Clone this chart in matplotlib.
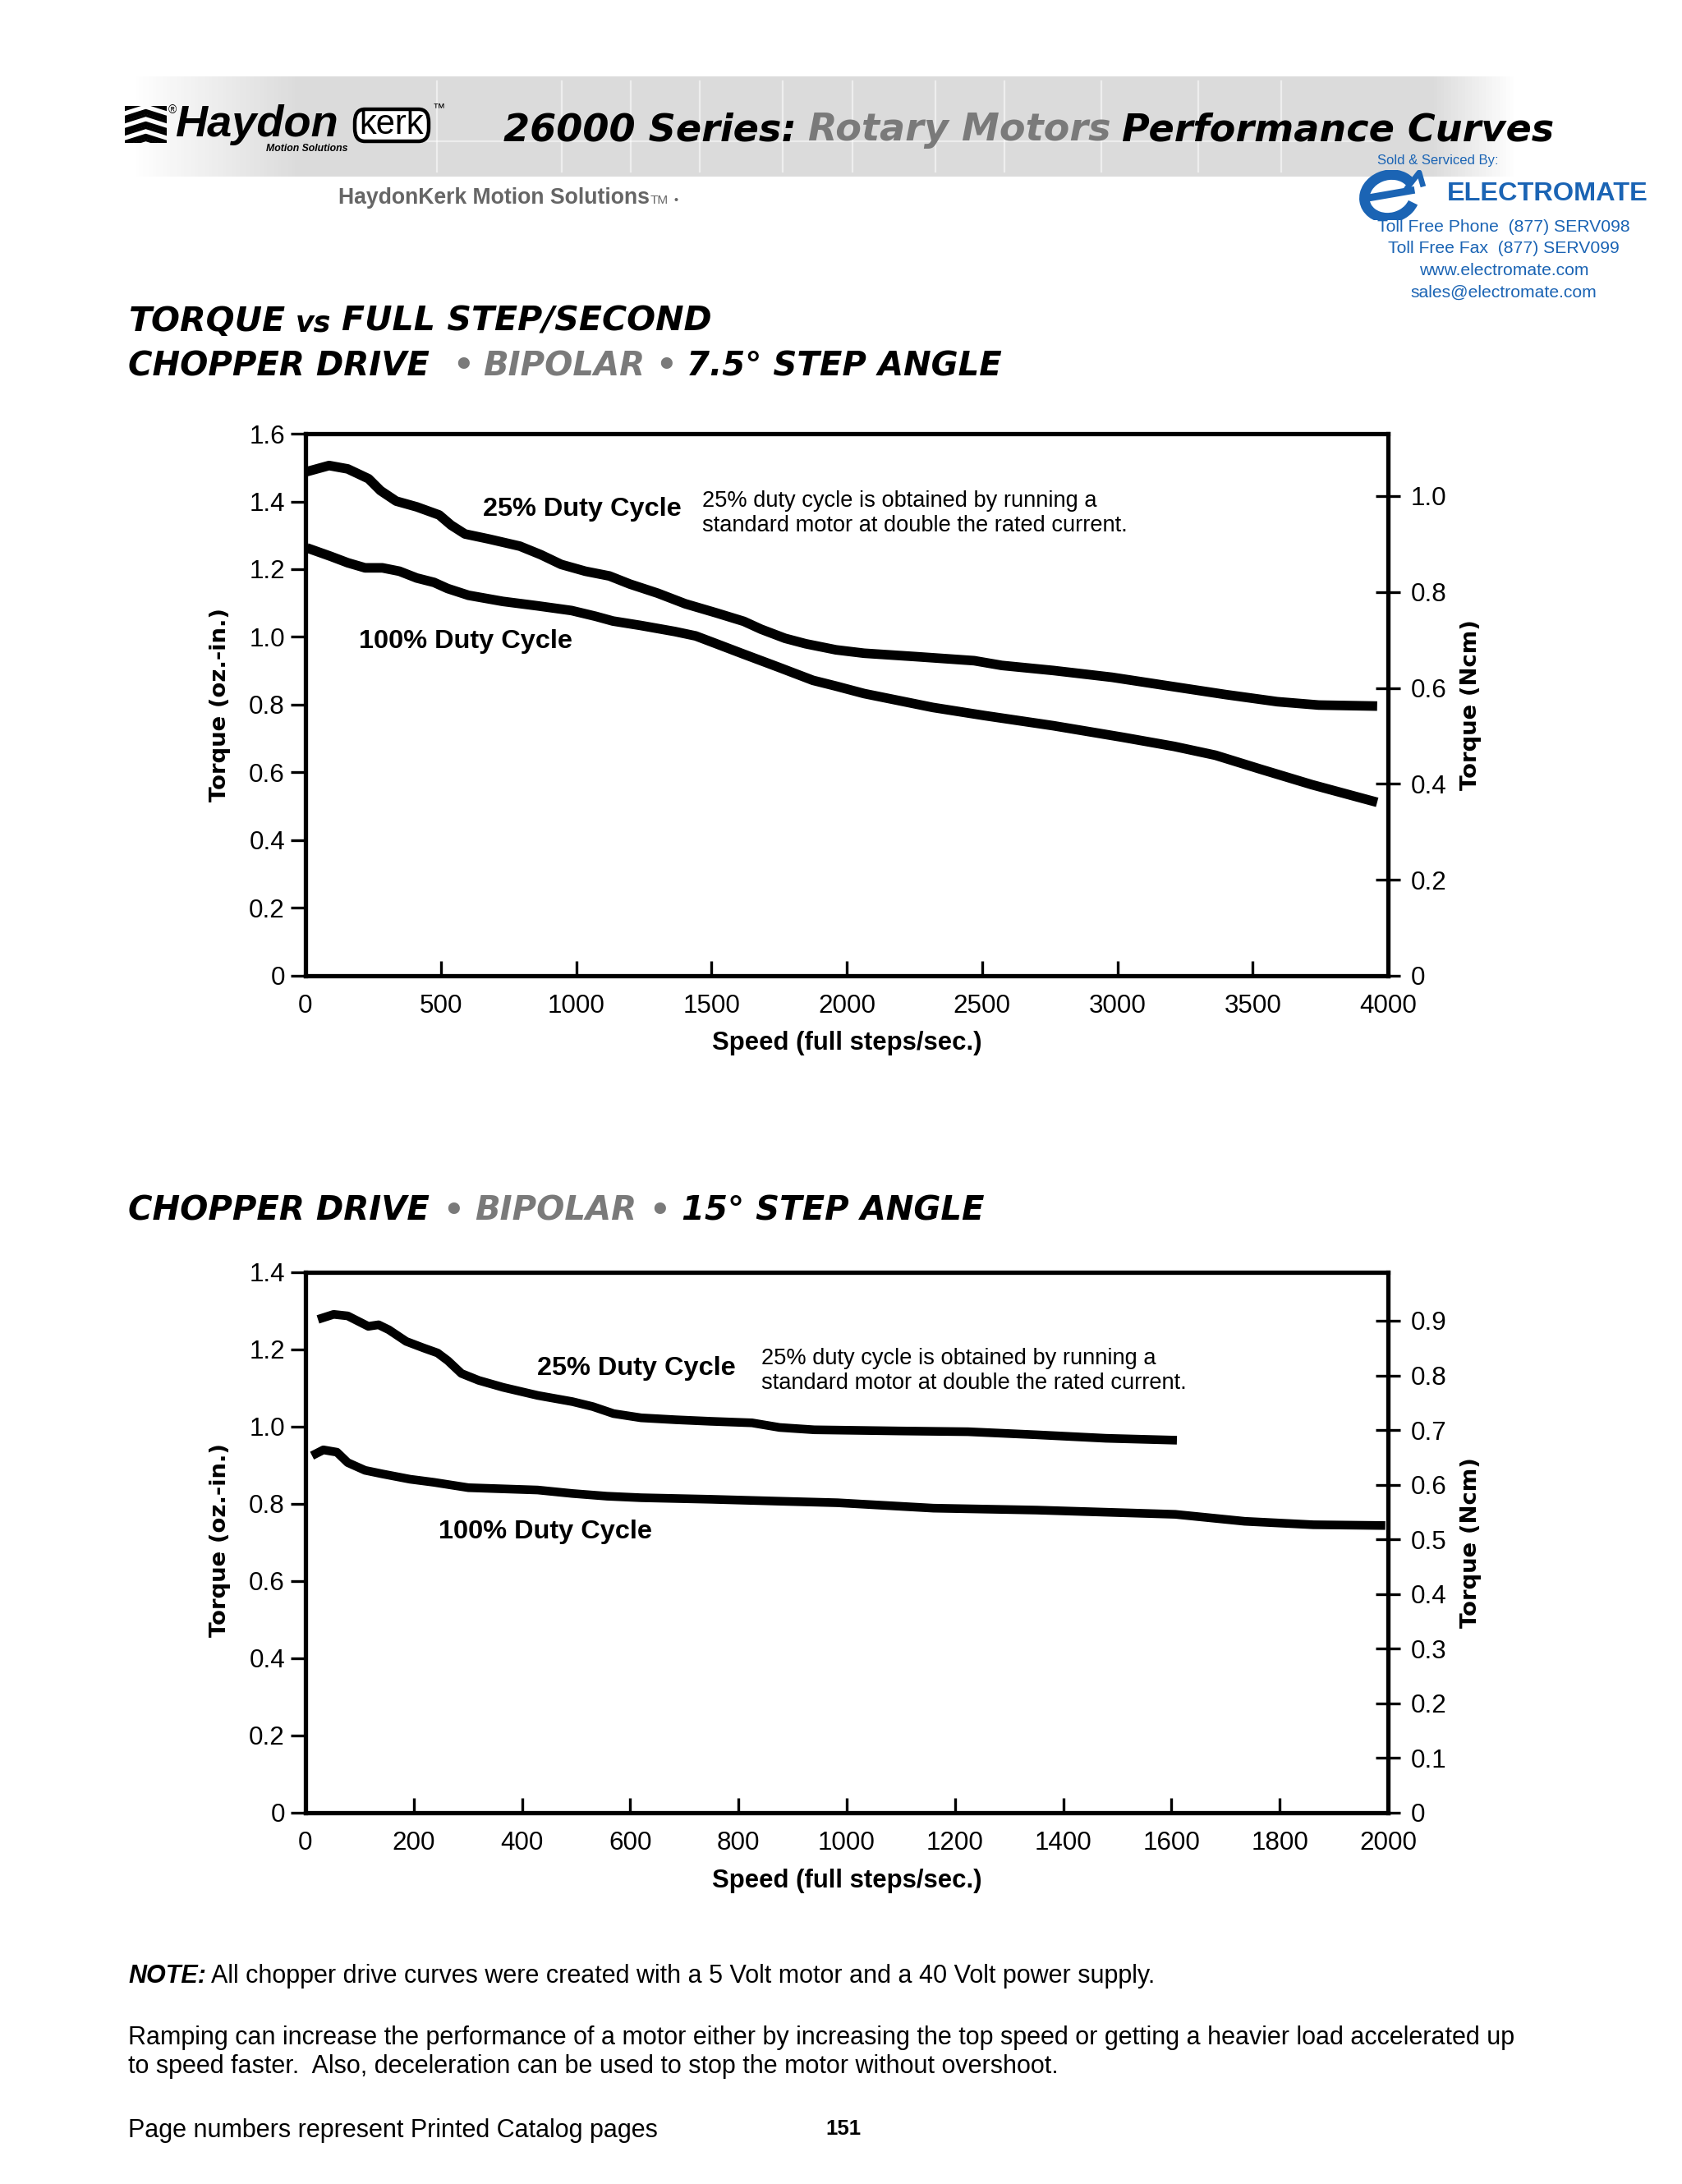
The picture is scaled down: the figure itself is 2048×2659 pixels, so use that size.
import numpy as np
import matplotlib
matplotlib.use("Agg")
import matplotlib.pyplot as plt
from matplotlib.patches import FancyBboxPatch, Arc

plt.rcParams['font.family'] = ['Liberation Sans', 'DejaVu Sans']

# ---------------- data ----------------
# Chart 1: 7.5 deg step angle (speed in full steps/sec, torque in oz-in)
c1_speed_25 = [5, 87, 156, 233, 277, 335, 411, 494, 538, 589, 678, 792, 869, 945, 1034, 1123,
               1199, 1302, 1403, 1518, 1620, 1683, 1772, 1848, 1960, 2064, 2255, 2471, 2573,
               2764, 2980, 3210, 3400, 3591, 3744, 3960]
c1_torque_25 = [1.488, 1.506, 1.496, 1.467, 1.432, 1.401, 1.384, 1.360, 1.330, 1.304, 1.289,
                1.268, 1.243, 1.214, 1.194, 1.180, 1.156, 1.129, 1.098, 1.071, 1.046, 1.023,
                0.996, 0.980, 0.962, 0.952, 0.942, 0.930, 0.916, 0.901, 0.881, 0.853, 0.830,
                0.809, 0.799, 0.796]
c1_speed_100 = [5, 93, 156, 220, 284, 347, 411, 475, 525, 602, 729, 856, 983, 1072, 1136, 1238,
                1365, 1442, 1518, 1620, 1747, 1875, 1960, 2064, 2318, 2509, 2764, 3019, 3210,
                3362, 3528, 3719, 3960]
c1_torque_100 = [1.263, 1.238, 1.219, 1.204, 1.204, 1.194, 1.174, 1.161, 1.143, 1.123, 1.105,
                 1.092, 1.078, 1.061, 1.047, 1.034, 1.016, 1.003, 0.980, 0.949, 0.911, 0.872,
                 0.855, 0.833, 0.792, 0.768, 0.738, 0.704, 0.677, 0.651, 0.610, 0.564, 0.512]

# Chart 2: 15 deg step angle
c2_speed_25 = [23, 52, 78, 116, 135, 154, 186, 218, 244, 263, 288, 320, 365, 429, 493, 531, 569,
               620, 684, 748, 825, 876, 940, 1096, 1224, 1351, 1479, 1610]
c2_torque_25 = [1.278, 1.291, 1.287, 1.260, 1.264, 1.251, 1.221, 1.204, 1.191, 1.171, 1.138,
                1.120, 1.102, 1.081, 1.065, 1.052, 1.034, 1.023, 1.018, 1.014, 1.010, 0.998,
                0.992, 0.989, 0.987, 0.979, 0.970, 0.965]
c2_speed_100 = [12, 33, 58, 78, 110, 141, 193, 237, 301, 365, 429, 493, 557, 620, 748, 876, 983,
                1160, 1351, 1607, 1735, 1862, 1995]
c2_torque_100 = [0.925, 0.940, 0.934, 0.907, 0.887, 0.878, 0.864, 0.856, 0.842, 0.839, 0.836,
                 0.827, 0.820, 0.816, 0.812, 0.807, 0.803, 0.789, 0.784, 0.773, 0.755, 0.746,
                 0.744]

c1_xticks = [0, 500, 1000, 1500, 2000, 2500, 3000, 3500, 4000]
c1_xlabels = ['0', '500', '1000', '1500', '2000', '2500', '3000', '3500', '4000']
c1_yticks = [0, 0.2, 0.4, 0.6, 0.8, 1.0, 1.2, 1.4, 1.6]
c1_ylabels = ['0', '0.2', '0.4', '0.6', '0.8', '1.0', '1.2', '1.4', '1.6']
c1_rticks = [0, 0.2, 0.4, 0.6, 0.8, 1.0]
c1_rlabels = ['0', '0.2', '0.4', '0.6', '0.8', '1.0']

c2_xticks = [0, 200, 400, 600, 800, 1000, 1200, 1400, 1600, 1800, 2000]
c2_xlabels = ['0', '200', '400', '600', '800', '1000', '1200', '1400', '1600', '1800', '2000']
c2_yticks = [0, 0.2, 0.4, 0.6, 0.8, 1.0, 1.2, 1.4]
c2_ylabels = ['0', '0.2', '0.4', '0.6', '0.8', '1.0', '1.2', '1.4']
c2_rticks = [0, 0.1, 0.2, 0.3, 0.4, 0.5, 0.6, 0.7, 0.8, 0.9]
c2_rlabels = ['0', '0.1', '0.2', '0.3', '0.4', '0.5', '0.6', '0.7', '0.8', '0.9']

OZIN_TO_NCM = 0.70616

W, H = 2048, 2659
DPI = 200
fig = plt.figure(figsize=(W / DPI, H / DPI), dpi=DPI)
fig.patch.set_facecolor('white')
renderer = fig.canvas.get_renderer()

GRAY = '#7a7a7a'
BLUE = '#1b64b4'
BOLDWIDE = ['DejaVu Sans']


def fx(x):
    return x / W


def fy(y):
    return 1 - y / H


def seq(x, y, pieces, **common):
    """Draw consecutive text pieces on one baseline. pieces: (text, kwargs, gap_px_after)."""
    for txt, kw, gap in pieces:
        opts = dict(common)
        opts.update(kw)
        t = fig.text(fx(x), fy(y), txt, ha='left', va='baseline', **opts)
        bb = t.get_window_extent(renderer)
        x += bb.width + gap
    return x


# ---------------- header band ----------------
band = fig.add_axes([fx(161), fy(215), fx(1847) - fx(161), (215 - 93) / H])
band.set_axis_off()
xs = np.linspace(0, 1, 400)
alpha = np.clip(xs / 0.12, 0, 1) * np.clip((1 - xs) / 0.06, 0, 1)
img = np.zeros((10, 400, 4))
img[..., 0] = img[..., 1] = img[..., 2] = 0.86
img[..., 3] = alpha[None, :]
band.imshow(img, aspect='auto', extent=(0, 1, 0, 1))
for xv in [0.22, 0.31, 0.36, 0.41, 0.47, 0.52, 0.58, 0.63, 0.70, 0.77, 0.83]:
    band.plot([xv, xv], [0.05, 0.95], color='white', lw=0.8, alpha=0.55)
band.plot([0.2, 0.9], [0.35, 0.35], color='white', lw=0.8, alpha=0.5)
band.set_xlim(0, 1)
band.set_ylim(0, 1)

# logo
logo = fig.add_axes([fx(152), fy(174), (203 - 152) / W, (174 - 129) / H])
logo.set_axis_off()
for i in range(4):
    logo.plot([0.0, 0.5, 1.0], [i / 3.0, i / 3.0 + 0.18, i / 3.0], color='black', lw=2.2)
    logo.plot([0.0, 0.5, 1.0], [i / 3.0 - 0.1, i / 3.0 + 0.08, i / 3.0 - 0.1], color='black', lw=1.2)
logo.set_xlim(0, 1)
logo.set_ylim(0, 1)
fig.text(fx(205), fy(134), '®', fontsize=5, ha='left', va='center')
fig.text(fx(213), fy(166), 'Haydon', fontsize=19.5, fontweight='bold', fontstyle='italic',
         ha='left', va='baseline')
fig.text(fx(324), fy(184), 'Motion Solutions', fontsize=4.4, fontweight='bold',
         fontstyle='italic', ha='left', va='baseline')
kbox = FancyBboxPatch((fx(432), fy(172)), fx(522) - fx(432), (172 - 133) / H,
                      boxstyle='round,pad=0.0,rounding_size=0.006', transform=fig.transFigure,
                      facecolor='white', edgecolor='black', lw=1.6)
fig.add_artist(kbox)
fig.text(fx(477), fy(163), 'kerk', fontsize=15, ha='center', va='baseline')
fig.text(fx(527), fy(131), '™', fontsize=5.5, ha='left', va='center')

# header title
seq(613, 171, [
    ('26000 Series:', dict(color='black'), 14),
    ('Rotary Motors', dict(color=GRAY), 14),
    ('Performance Curves', dict(color='black'), 0),
], fontsize=16.6, fontweight='bold', fontstyle='italic', family=BOLDWIDE)

seq(412, 248, [
    ('HaydonKerk Motion Solutions', dict(), 1),
    ('TM', dict(fontsize=5.5, fontweight='normal'), 6),
    ('•', dict(fontsize=5), 0),
], fontsize=9.6, fontweight='bold', color='#666666')

# electromate block
fig.text(fx(1677), fy(200), 'Sold & Serviced By:', fontsize=6.0, color=BLUE,
         ha='left', va='baseline')
# swoosh "e" logo mark
elogo = fig.add_axes([fx(1652), fy(268), (1745 - 1652) / W, (268 - 207) / H])
elogo.set_axis_off()
elogo.set_xlim(0, 93)
elogo.set_ylim(0, 61)
elogo.add_patch(Arc((40, 29), 62, 52, angle=15, theta1=20, theta2=330, color=BLUE, lw=4.5))
elogo.plot([14, 66], [27, 36], color=BLUE, lw=3.2)
elogo.plot([62, 76, 80], [40, 58, 44], color=BLUE, lw=2.4)
fig.text(fx(1762), fy(244), 'ELECTROMATE', fontsize=11.7, fontweight='bold', color=BLUE,
         ha='left', va='baseline')
for i, line in enumerate(['Toll Free Phone  (877) SERV098', 'Toll Free Fax  (877) SERV099',
                          'www.electromate.com', 'sales@electromate.com']):
    fig.text(fx(1831), fy(282 + 26.5 * i), line, fontsize=7.6, color=BLUE,
             ha='center', va='baseline')

# section titles
TKW = dict(fontweight='bold', fontstyle='italic', family=BOLDWIDE)
seq(156, 403, [
    ('TORQUE', dict(fontsize=14.8), 13),
    ('vs', dict(fontsize=12.5), 13),
    ('FULL STEP/SECOND', dict(fontsize=14.8), 0),
], color='black', **TKW)
seq(156, 457, [
    ('CHOPPER DRIVE', dict(color='black'), 28),
    ('•', dict(color=GRAY), 12),
    ('BIPOLAR', dict(color=GRAY), 12),
    ('•', dict(color=GRAY), 12),
    ('7.5° STEP ANGLE', dict(color='black'), 0),
], fontsize=14.5, **TKW)
seq(156, 1486, [
    ('CHOPPER DRIVE', dict(color='black'), 16),
    ('•', dict(color=GRAY), 14),
    ('BIPOLAR', dict(color=GRAY), 14),
    ('•', dict(color=GRAY), 14),
    ('15° STEP ANGLE', dict(color='black'), 0),
], fontsize=14.5, **TKW)


# ---------------- charts ----------------
def make_chart(rect_px, xmax, ymax, xt, xl, yt, yl, rt, rl):
    x0, y_top, x1, y_bot = rect_px
    ax = fig.add_axes([fx(x0), fy(y_bot), fx(x1) - fx(x0), (y_bot - y_top) / H])
    ax.set_xlim(0, xmax)
    ax.set_ylim(0, ymax)
    for sp in ax.spines.values():
        sp.set_linewidth(1.9)
    ax.spines['right'].set_visible(False)
    ax.set_xticks(xt)
    ax.set_xticklabels(xl)
    ax.set_yticks(yt)
    ax.set_yticklabels(yl)
    ax.tick_params(axis='x', direction='in', length=6.5, width=1.2, pad=8, labelsize=11.3)
    ax.tick_params(axis='y', direction='out', length=6.5, width=1.2, pad=2.5, labelsize=11.3)
    sec = ax.secondary_yaxis('right', functions=(lambda t: t * OZIN_TO_NCM,
                                                 lambda n: n / OZIN_TO_NCM))
    sec.spines['right'].set_linewidth(1.9)
    sec.set_yticks(rt)
    sec.set_yticklabels(rl)
    sec.tick_params(axis='y', direction='inout', length=11, width=1.2, pad=4.5, labelsize=11.3)
    ax.set_xlabel('Speed (full steps/sec.)', fontsize=11.2, fontweight='bold', va='center')
    ax.set_ylabel('Torque (oz.-in.)', fontsize=9.9, fontweight='bold', family=BOLDWIDE,
                  va='center')
    sec.set_ylabel('Torque (Ncm)', fontsize=9.9, fontweight='bold', family=BOLDWIDE,
                   labelpad=6)
    return ax, sec


ax1, sec1 = make_chart((372, 528, 1690, 1188), 4000, 1.6, c1_xticks, c1_xlabels,
                       c1_yticks, c1_ylabels, c1_rticks, c1_rlabels)
ax1.xaxis.set_label_coords(0.5, -0.125)
ax1.yaxis.set_label_coords(-0.079, 0.5)
ax1.plot(c1_speed_25, c1_torque_25, color='black', lw=4.2, solid_capstyle='butt',
         solid_joinstyle='round')
ax1.plot(c1_speed_100, c1_torque_100, color='black', lw=4.2, solid_capstyle='butt',
         solid_joinstyle='round')
ax1.text(655, 1.377, '25% Duty Cycle', fontsize=11.7, fontweight='bold', ha='left', va='center')
ax1.text(1466, 1.365, '25% duty cycle is obtained by running a\nstandard motor at double the rated current.',
         fontsize=9.8, ha='left', va='center', linespacing=1.2)
ax1.text(197, 0.987, '100% Duty Cycle', fontsize=11.7, fontweight='bold', ha='left', va='center')

ax2, sec2 = make_chart((372, 1549, 1690, 2207), 2000, 1.4, c2_xticks, c2_xlabels,
                       c2_yticks, c2_ylabels, c2_rticks, c2_rlabels)
ax2.xaxis.set_label_coords(0.5, -0.126)
ax2.yaxis.set_label_coords(-0.079, 0.505)
ax2.plot(c2_speed_25, c2_torque_25, color='black', lw=3.8, solid_capstyle='butt',
         solid_joinstyle='round')
ax2.plot(c2_speed_100, c2_torque_100, color='black', lw=3.8, solid_capstyle='butt',
         solid_joinstyle='round')
ax2.text(428, 1.152, '25% Duty Cycle', fontsize=11.7, fontweight='bold', ha='left', va='center')
ax2.text(842, 1.144, '25% duty cycle is obtained by running a\nstandard motor at double the rated current.',
         fontsize=9.8, ha='left', va='center', linespacing=1.2)
ax2.text(246, 0.727, '100% Duty Cycle', fontsize=11.7, fontweight='bold', ha='left', va='center')

# ---------------- footer text ----------------
seq(156, 2414, [
    ('NOTE:', dict(fontweight='bold', fontstyle='italic'), 6),
    ('All chopper drive curves were created with a 5 Volt motor and a 40 Volt power supply.',
     dict(), 0),
], fontsize=11, color='black')
fig.text(fx(156), fy(2489), 'Ramping can increase the performance of a motor either by increasing '
         'the top speed or getting a heavier load accelerated up', fontsize=11,
         ha='left', va='baseline')
fig.text(fx(156), fy(2524), 'to speed faster.  Also, deceleration can be used to stop the motor '
         'without overshoot.', fontsize=11, ha='left', va='baseline')
fig.text(fx(156), fy(2602), 'Page numbers represent Printed Catalog pages', fontsize=11,
         ha='left', va='baseline')
fig.text(fx(1005), fy(2599), '151', fontsize=9.3, fontweight='bold', ha='left', va='baseline')

fig.savefig('out.png', dpi=DPI, facecolor='white')
